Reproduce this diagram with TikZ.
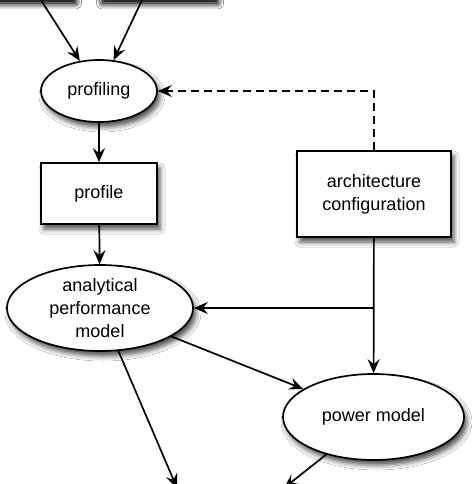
\documentclass[tikz,border=0pt]{standalone}
\usepackage{fontspec}
\setmainfont{Liberation Sans}
\usetikzlibrary{arrows.meta,shapes.geometric,shadows.blur}
\begin{document}
\begin{tikzpicture}[x=1pt,y=-1pt,
  every node/.style={font=\fontsize{18}{23}\selectfont},
  shade/.style={blur shadow={shadow xshift=3pt,shadow yshift=-5pt,shadow blur radius=5pt,shadow opacity=70}},
  topshade/.style={blur shadow={shadow xshift=3pt,shadow yshift=-9pt,shadow blur radius=6pt,shadow opacity=80}},
  ell/.style={ellipse,draw,line width=1.7pt,fill=white,inner sep=0pt,shade},
  box/.style={rectangle,draw,line width=1.7pt,fill=white,inner sep=0pt,shade,align=center},
  arr/.style={line width=1.7pt,-{Stealth[length=14pt,width=12pt,inset=5pt]}},
]
\useasboundingbox (0,0) rectangle (474,484);
\clip (0,0) rectangle (474,484);
\fill[white] (0,0) rectangle (474,484);
% boxes cut off at the top
\node[box,topshade,minimum width=95pt,minimum height=60pt] (src1) at (25,-36) {};
\node[box,topshade,minimum width=115pt,minimum height=60pt] (src2) at (157,-36) {};
% main nodes
\node[ell,minimum width=116pt,minimum height=62pt] (profiling) at (99,91) {profiling};
\node[box,minimum width=116pt,minimum height=61pt] (profile) at (99,193.5) {profile};
\node[box,minimum width=154pt,minimum height=86pt] (arch) at (374,194) {architecture\\configuration};
\node[ell,align=center,inner ysep=-14pt,minimum width=186pt,minimum height=86pt] (apm) at (100,308) {analytical\\performance\\model};
\node[ell,minimum width=181pt,minimum height=86pt] (power) at (373.5,417) {power model};
% connectors
\coordinate (a1) at (39,-3);
\coordinate (a2) at (143.5,-3);
\coordinate (b1) at (177,488);
\coordinate (b2) at (284,488);
\draw[arr] (a1) -- (profiling);
\draw[arr] (a2) -- (profiling);
\draw[arr,dash pattern=on 8pt off 5pt] (arch.north) |- (profiling.east);
\draw[arr] (profiling) -- (profile);
\draw[arr] (profile) -- (apm);
\draw[arr] (arch) -- (power);
\coordinate (j) at (arch.south |- apm.east);
\draw[arr] (j) -- (apm.east);
\draw[arr] (apm) -- (power);
\draw[arr] (apm) -- (b1);
\draw[arr] (power) -- (b2);
\end{tikzpicture}
\end{document}
